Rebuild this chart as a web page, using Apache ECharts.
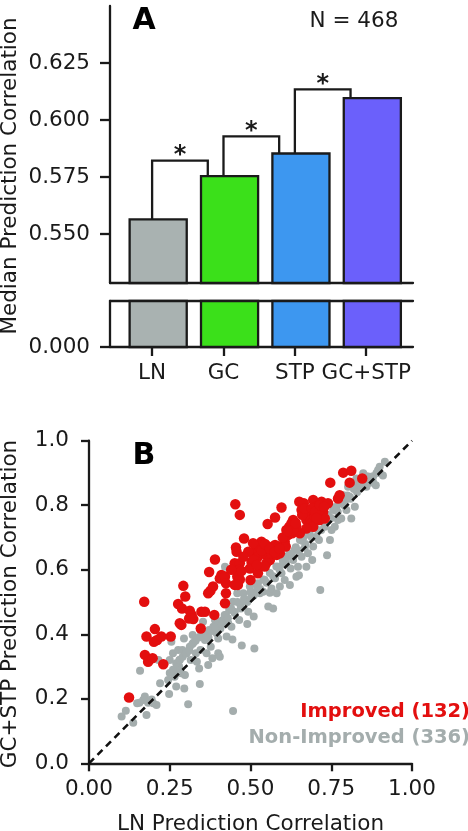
<!DOCTYPE html>
<html>
<head>
<meta charset="utf-8">
<script src="https://cdn.jsdelivr.net/npm/echarts@6/dist/echarts.min.js"></script>
<style>
html,body{margin:0;padding:0;background:#fff;}
#chart{width:468px;height:831px;}
</style>
</head>
<body>
<div id="chart"></div>
<script>
// ---------- Panel A data ----------
const models = ['LN', 'GC', 'STP', 'GC+STP'];
const medianCorr = [0.5564, 0.5754, 0.5853, 0.6096];
const upperTicks = [0.550, 0.575, 0.600, 0.625];
const lowerTicks = [0.000];
// significance brackets: [left model index, right model index]
const bracketPairs = [[0, 1], [1, 2], [2, 3]];
const bracketTops = [0.5822, 0.5928, 0.6134];
const nLabel = 'N = 468';

// ---------- Panel B data ----------
const scatterXTicks = [0, 0.25, 0.5, 0.75, 1.0];
const scatterYTicks = [0, 0.2, 0.4, 0.6, 0.8, 1.0];
const improved = [
[0.124,0.204],[0.171,0.501],[0.178,0.393],[0.204,0.416],[0.201,0.377],[0.211,0.382],[0.224,0.393],[0.253,0.393],[0.173,0.336],[0.183,0.315],[0.197,0.326],[0.230,0.307],
[0.292,0.550],[0.298,0.517],[0.276,0.494],[0.288,0.480],[0.281,0.434],[0.286,0.429],[0.312,0.473],[0.318,0.460],[0.310,0.449],[0.323,0.447],[0.348,0.470],[0.359,0.470],[0.346,0.418],[0.388,0.460],
[0.372,0.593],[0.390,0.632],[0.376,0.535],[0.384,0.548],[0.410,0.584],[0.405,0.573],[0.421,0.579],[0.424,0.558],[0.424,0.527],[0.421,0.496],
[0.453,0.803],[0.467,0.770],[0.480,0.697],[0.455,0.669],[0.457,0.656],[0.451,0.620],[0.467,0.620],[0.465,0.599],[0.459,0.579],[0.467,0.570],[0.451,0.553],[0.461,0.553],
[0.503,0.625],[0.498,0.604],[0.500,0.568],[0.523,0.589],[0.508,0.651],[0.518,0.661],[0.523,0.640],[0.528,0.672],[0.539,0.651],[0.534,0.687],[0.549,0.646],[0.555,0.672],[0.560,0.630],[0.565,0.651],[0.570,0.661],[0.576,0.677],[0.586,0.672],[0.591,0.651],[0.581,0.646],[0.549,0.620],[0.544,0.610],
[0.553,0.742],[0.576,0.762],[0.596,0.793],[0.606,0.687],[0.609,0.672],[0.611,0.723],[0.620,0.733],[0.627,0.744],[0.632,0.754],[0.617,0.708],[0.629,0.713],
[0.651,0.811],[0.658,0.785],[0.665,0.806],[0.673,0.754],[0.680,0.775],[0.686,0.754],[0.689,0.744],[0.694,0.816],[0.699,0.764],[0.704,0.795],[0.710,0.775],[0.714,0.754],[0.720,0.811],[0.725,0.780],[0.694,0.733],[0.673,0.728],[0.730,0.759],[0.740,0.806],[0.714,0.785],
[0.747,0.870],[0.771,0.821],[0.776,0.831],[0.787,0.901],[0.812,0.907],[0.807,0.870],[0.846,0.883],[0.653,0.713],[0.642,0.733],[0.632,0.723],
[0.369,0.527],[0.472,0.596],[0.508,0.682],[0.493,0.656],
[0.535,0.660],[0.545,0.680],[0.560,0.665],[0.575,0.655],[0.590,0.665],[0.600,0.700],[0.615,0.720],[0.640,0.745],[0.660,0.770],[0.668,0.790],[0.690,0.790],[0.700,0.780],[0.705,0.760],[0.715,0.800],[0.728,0.795],[0.510,0.630],[0.520,0.615],[0.440,0.600],[0.478,0.640]
];
const nonImproved = [
[0.101,0.145],[0.114,0.163],[0.137,0.126],[0.149,0.186],[0.158,0.287],[0.156,0.188],[0.168,0.196],[0.173,0.207],[0.178,0.150],[0.183,0.188],[0.194,0.198],[0.199,0.186],[0.209,0.181],
[0.215,0.320],[0.220,0.248],[0.245,0.258],[0.248,0.215],[0.250,0.320],[0.255,0.377],[0.260,0.341],[0.265,0.268],[0.270,0.238],[0.272,0.289],[0.276,0.351],[0.279,0.300],[0.281,0.320],[0.286,0.279],[0.289,0.351],[0.294,0.387],[0.295,0.232],[0.297,0.274],
[0.302,0.341],[0.307,0.183],[0.312,0.361],[0.315,0.320],[0.321,0.398],[0.323,0.374],[0.331,0.341],[0.334,0.315],[0.341,0.294],[0.343,0.246],[0.345,0.351],[0.348,0.403],[0.353,0.439],[0.359,0.382],[0.364,0.341],[0.369,0.305],[0.372,0.413],[0.377,0.361],[0.382,0.326],[0.385,0.423],[0.390,0.444],[0.395,0.403],[0.400,0.341],[0.400,0.387],[0.405,0.330],[0.407,0.418],
[0.415,0.444],[0.421,0.609],[0.424,0.460],[0.426,0.393],[0.431,0.434],[0.434,0.475],[0.441,0.423],[0.444,0.384],[0.446,0.162],[0.446,0.501],[0.451,0.466],[0.459,0.527],[0.465,0.444],[0.469,0.491],[0.473,0.365],[0.478,0.527],[0.488,0.506],[0.490,0.432],[0.493,0.470],[0.498,0.548],
[0.503,0.517],[0.510,0.455],[0.512,0.356],[0.516,0.532],[0.523,0.558],[0.529,0.527],[0.539,0.532],[0.544,0.568],[0.555,0.486],[0.560,0.529],[0.565,0.542],[0.570,0.480],[0.576,0.574],[0.581,0.527],[0.586,0.609],[0.591,0.548],[0.596,0.589],
[0.601,0.620],[0.606,0.568],[0.611,0.640],[0.622,0.553],[0.624,0.604],[0.632,0.630],[0.637,0.661],[0.642,0.578],[0.647,0.609],[0.650,0.583],[0.653,0.692],[0.658,0.640],[0.665,0.702],[0.668,0.668],[0.673,0.609],[0.678,0.651],[0.683,0.713],[0.691,0.630],[0.694,0.672],
[0.704,0.702],[0.712,0.692],[0.716,0.537],[0.719,0.723],[0.730,0.733],[0.737,0.645],[0.740,0.754],[0.746,0.692],[0.751,0.723],[0.756,0.785],[0.761,0.733],[0.766,0.795],[0.771,0.754],[0.776,0.806],[0.781,0.759],[0.787,0.831],[0.792,0.811],[0.797,0.785],
[0.802,0.857],[0.807,0.826],[0.812,0.759],[0.818,0.867],[0.823,0.795],[0.828,0.883],[0.833,0.852],[0.838,0.878],[0.849,0.899],[0.854,0.867],[0.859,0.857],[0.864,0.877],[0.869,0.888],[0.879,0.873],[0.888,0.862],[0.895,0.909],[0.900,0.919],[0.916,0.935],[0.910,0.892],
[0.45,0.47],[0.46,0.50],[0.47,0.48],[0.48,0.51],[0.49,0.50],[0.50,0.53],[0.51,0.52],[0.52,0.55],[0.53,0.54],[0.54,0.57],[0.55,0.56],[0.56,0.59],[0.57,0.58],[0.58,0.61],[0.59,0.60],[0.60,0.63],[0.61,0.62],[0.62,0.65],[0.63,0.64],[0.64,0.67],[0.65,0.66],[0.66,0.69],[0.67,0.68],[0.68,0.71],[0.69,0.70],[0.70,0.73],[0.71,0.72],[0.72,0.75],[0.73,0.74],[0.74,0.77],[0.75,0.76],[0.76,0.79],[0.77,0.78],[0.78,0.81],[0.79,0.80],[0.80,0.83],[0.81,0.82],[0.82,0.85],[0.83,0.84],[0.84,0.87],[0.85,0.86],[0.86,0.89],[0.87,0.87],[0.88,0.89],[0.89,0.90],[0.90,0.90],
[0.36,0.40],[0.37,0.39],[0.38,0.41],[0.39,0.42],[0.40,0.44],[0.41,0.43],[0.42,0.46],[0.43,0.45],[0.44,0.48],[0.25,0.28],[0.26,0.29],[0.27,0.31],[0.28,0.32],[0.29,0.33],[0.30,0.34],[0.31,0.35],[0.32,0.37],[0.33,0.38],[0.34,0.39],[0.35,0.41]
];
const identityLine = [[0, 0], [1, 1]];
const improvedLabel = 'Improved (' + improved.length + ')';
const nonImprovedLabel = 'Non-Improved (336)';

// ---------- styles ----------
const FONT = 'DejaVu Sans';
const INK = '#1a1a1a';
const barColors = ['#a9b2b1', '#3be01a', '#3d97f0', '#6b60fb'];
const BAR_OFFSET = 0.085, BAR_W = 0.80, BRACKET_SPAN = 0.78;
const UPPER_MIN = 0.5285, UPPER_MAX = 0.65;
const XMIN = -0.59, XMAX = 3.655;

const chart = echarts.init(document.getElementById('chart'), null, {renderer: 'canvas'});

const axisLineStyle = {show: true, onZero: false, lineStyle: {color: INK, width: 2.3}};
const labelStyle = {fontFamily: FONT, fontSize: 21.5, color: INK};

function barRender(params, api) {
  const i = api.value(0);
  const v = api.value(1);
  const cs = params.coordSys;
  const left = api.coord([i + BAR_OFFSET - BAR_W / 2, v]);
  const right = api.coord([i + BAR_OFFSET + BAR_W / 2, v]);
  const top = Math.max(left[1], cs.y);
  const bottom = cs.y + cs.height;
  return {
    type: 'rect',
    shape: {x: left[0], y: top, width: right[0] - left[0], height: bottom - top},
    style: {fill: barColors[i], stroke: INK, lineWidth: 2.3}
  };
}

const barData = medianCorr.map((v, i) => [i, v]);

function bracketRender(params, api) {
  const k = params.dataIndex;
  const a = bracketPairs[k][0], b = bracketPairs[k][1];
  const top = bracketTops[k];
  const p1 = api.coord([a, medianCorr[a]]);
  const p2 = api.coord([a, top]);
  const p3 = api.coord([a + BRACKET_SPAN, top]);
  const p4 = api.coord([a + BRACKET_SPAN, medianCorr[b]]);
  const mid = api.coord([a + BRACKET_SPAN / 2, top]);
  return {
    type: 'group',
    children: [
      {type: 'polyline', shape: {points: [p1, p2, p3, p4]}, style: {stroke: INK, lineWidth: 2.3, fill: null}},
      {type: 'text', x: mid[0], y: mid[1] - 5, style: {text: '*', fontFamily: FONT, fontSize: 24, fontWeight: 'bold', fill: INK, align: 'center', verticalAlign: 'middle'}}
    ]
  };
}

const option = {
  animation: false,
  backgroundColor: '#fff',
  grid: [
    {left: 110, top: 6, width: 303, height: 277},
    {left: 110, top: 301, width: 303, height: 46},
    {left: 89, top: 440.7, width: 323, height: 322.6}
  ],
  xAxis: [
    {gridIndex: 0, type: 'value', min: XMIN, max: XMAX, position: 'bottom', axisLine: axisLineStyle, axisTick: {show: false}, axisLabel: {show: false}, splitLine: {show: false}},
    {gridIndex: 1, type: 'value', min: XMIN, max: XMAX, position: 'bottom', axisLine: axisLineStyle,
      axisTick: {show: true, length: 9, lineStyle: {color: INK, width: 2.3}, customValues: [0, 1, 2, 3]},
      axisLabel: Object.assign({show: true, margin: 15, customValues: [0, 1, 2, 3], formatter: v => models[Math.round(v)]}, labelStyle),
      splitLine: {show: false}},
    {gridIndex: 1, type: 'value', min: XMIN, max: XMAX, position: 'top', axisLine: axisLineStyle, axisTick: {show: false}, axisLabel: {show: false}, splitLine: {show: false}},
    {gridIndex: 2, type: 'value', min: 0, max: 1, interval: 0.25, axisLine: axisLineStyle,
      axisTick: {show: true, length: 8, lineStyle: {color: INK, width: 2.3}},
      axisLabel: Object.assign({margin: 15, formatter: v => v.toFixed(2)}, labelStyle),
      splitLine: {show: false}}
  ],
  yAxis: [
    {gridIndex: 0, type: 'value', min: UPPER_MIN, max: UPPER_MAX, axisLine: axisLineStyle,
      axisTick: {show: true, length: 10, lineStyle: {color: INK, width: 2.3}, customValues: upperTicks},
      axisLabel: Object.assign({margin: 20, customValues: upperTicks, formatter: v => v.toFixed(3)}, labelStyle),
      splitLine: {show: false}},
    {gridIndex: 1, type: 'value', min: 0, max: 0.04, axisLine: axisLineStyle,
      axisTick: {show: true, length: 10, lineStyle: {color: INK, width: 2.3}, customValues: lowerTicks},
      axisLabel: Object.assign({margin: 20, customValues: lowerTicks, formatter: v => v.toFixed(3)}, labelStyle),
      splitLine: {show: false}},
    {gridIndex: 2, type: 'value', min: 0, max: 1, interval: 0.2, axisLine: axisLineStyle,
      axisTick: {show: true, length: 8, lineStyle: {color: INK, width: 2.3}},
      axisLabel: Object.assign({margin: 20, formatter: v => v.toFixed(1)}, labelStyle),
      splitLine: {show: false}}
  ],
  series: [
    {type: 'custom', xAxisIndex: 0, yAxisIndex: 0, renderItem: barRender, data: barData, z: 2},
    {type: 'custom', xAxisIndex: 1, yAxisIndex: 1, renderItem: barRender, data: barData, z: 2},
    {type: 'custom', xAxisIndex: 0, yAxisIndex: 0, renderItem: bracketRender, data: bracketTops.map((t, k) => [k, t]), z: 3},
    {type: 'scatter', xAxisIndex: 3, yAxisIndex: 2, data: nonImproved, symbolSize: 8, itemStyle: {color: '#a4adad', opacity: 1}, z: 2},
    {type: 'scatter', xAxisIndex: 3, yAxisIndex: 2, data: improved, symbolSize: 10.5, itemStyle: {color: '#e30f0f', opacity: 1}, z: 3},
    {type: 'line', xAxisIndex: 3, yAxisIndex: 2, data: identityLine, showSymbol: false, symbol: 'none',
      lineStyle: {color: '#111', width: 2.6, type: [7, 5]}, z: 4}
  ],
  graphic: [
    {type: 'text', x: 144, y: 21, style: {text: 'A', fontFamily: FONT, fontSize: 30, fontWeight: 'bold', fill: '#000', align: 'center', verticalAlign: 'middle'}},
    {type: 'text', x: 354, y: 21, style: {text: nLabel, fontFamily: FONT, fontSize: 21.5, fill: INK, align: 'center', verticalAlign: 'middle'}},
    {type: 'text', x: 10.5, y: 176, rotation: Math.PI / 2, style: {text: 'Median Prediction Correlation', fontFamily: FONT, fontSize: 21.5, fill: INK, align: 'center', verticalAlign: 'middle'}},
    {type: 'text', x: 144, y: 456, style: {text: 'B', fontFamily: FONT, fontSize: 30, fontWeight: 'bold', fill: '#000', align: 'center', verticalAlign: 'middle'}},
    {type: 'text', x: 10.5, y: 604, rotation: Math.PI / 2, style: {text: 'GC+STP Prediction Correlation', fontFamily: FONT, fontSize: 21.5, fill: INK, align: 'center', verticalAlign: 'middle'}},
    {type: 'text', x: 250.5, y: 824.5, style: {text: 'LN Prediction Correlation', fontFamily: FONT, fontSize: 21.5, fill: INK, align: 'center', verticalAlign: 'middle'}},
    {type: 'text', x: 470, y: 712, style: {text: improvedLabel, fontFamily: FONT, fontSize: 19.5, fontWeight: 'bold', fill: '#e30f0f', align: 'right', verticalAlign: 'middle'}},
    {type: 'text', x: 470, y: 738, style: {text: nonImprovedLabel, fontFamily: FONT, fontSize: 19.5, fontWeight: 'bold', fill: '#a4adad', align: 'right', verticalAlign: 'middle'}}
  ]
};
chart.setOption(option);
</script>
</body>
</html>
